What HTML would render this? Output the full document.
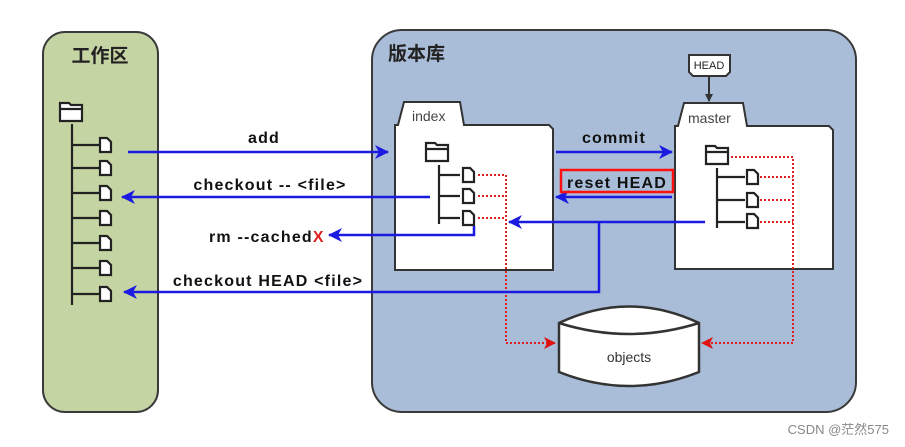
<!DOCTYPE html>
<html><head><meta charset="utf-8"><style>
body{margin:0;background:#fff;}
svg{display:block;font-family:"Liberation Sans","DejaVu Sans","Noto Sans CJK SC",sans-serif;}
.b{font-weight:bold;font-size:16px;fill:#111;letter-spacing:1.2px;}
</style></head><body>
<svg width="905" height="447" viewBox="0 0 905 447" xmlns="http://www.w3.org/2000/svg">
<defs>
<marker id="ab" markerWidth="14" markerHeight="14" refX="13" refY="7" orient="auto" markerUnits="userSpaceOnUse"><path d="M0,0 L14,7 L0,14 L4,7z" fill="#1a1ae0"/></marker>
<marker id="ar" markerWidth="12" markerHeight="12" refX="11" refY="6" orient="auto" markerUnits="userSpaceOnUse"><path d="M0,0 L12,6 L0,12 L3,6z" fill="#e01010"/></marker>
<marker id="ak" markerWidth="8" markerHeight="8" refX="7" refY="4" orient="auto" markerUnits="userSpaceOnUse"><path d="M0,0 L8,4 L0,8z" fill="#333"/></marker>
<g id="file"><path d="M0,0 h7 l4,4 v10 h-11z" fill="#fff" stroke="#222" stroke-width="2.2"/></g>
<g id="fold"><path d="M0,3 h9 l2,2 h11 v16 h-22z M0,9 h22" fill="#fff" stroke="#222" stroke-width="2.2"/></g>
</defs>
<rect x="43" y="32" width="115" height="380" rx="22" fill="#c5d4a3" stroke="#3a3a3a" stroke-width="2"/>
<text x="100" y="62" text-anchor="middle" font-size="19" font-weight="bold" fill="#222">工作区</text>
<rect x="372" y="30" width="484" height="382" rx="30" fill="#a9bdd8" stroke="#3a3a3a" stroke-width="2"/>
<text x="388" y="60" font-size="19" font-weight="bold" fill="#222">版本库</text>
<use href="#fold" x="60" y="100"/>
<line x1="72" y1="124" x2="72" y2="305" stroke="#222" stroke-width="2.2"/>
<g stroke="#222" stroke-width="2.2">
<line x1="72" y1="145" x2="99" y2="145"/><line x1="72" y1="168" x2="99" y2="168"/><line x1="72" y1="193" x2="99" y2="193"/><line x1="72" y1="218" x2="99" y2="218"/><line x1="72" y1="243" x2="99" y2="243"/><line x1="72" y1="268" x2="99" y2="268"/><line x1="72" y1="294" x2="99" y2="294"/></g>
<use href="#file" x="100" y="138"/><use href="#file" x="100" y="161"/><use href="#file" x="100" y="186"/><use href="#file" x="100" y="211"/><use href="#file" x="100" y="236"/><use href="#file" x="100" y="261"/><use href="#file" x="100" y="287"/>
<path d="M395,125 L398,125 L404,102 L460,102 L464,125 L549,125 L553,129 L553,270 L395,270 Z" fill="#fff" stroke="#333" stroke-width="2"/>
<text x="412" y="121" font-size="14" fill="#444">index</text>
<use href="#fold" x="426" y="140"/>
<line x1="439" y1="165" x2="439" y2="224" stroke="#222" stroke-width="2.2"/>
<g stroke="#222" stroke-width="2.2"><line x1="439" y1="175" x2="460" y2="175"/><line x1="439" y1="196" x2="460" y2="196"/><line x1="439" y1="218" x2="460" y2="218"/></g>
<use href="#file" x="463" y="168"/><use href="#file" x="463" y="189"/><use href="#file" x="463" y="211"/>
<path d="M675,126 L678,126 L684,103 L743,103 L747,126 L829,126 L833,130 L833,269 L675,269 Z" fill="#fff" stroke="#333" stroke-width="2"/>
<text x="688" y="123" font-size="14" fill="#444">master</text>
<use href="#fold" x="706" y="143"/>
<line x1="717" y1="168" x2="717" y2="228" stroke="#222" stroke-width="2.2"/>
<g stroke="#222" stroke-width="2.2"><line x1="717" y1="177" x2="745" y2="177"/><line x1="717" y1="200" x2="745" y2="200"/><line x1="717" y1="222" x2="745" y2="222"/></g>
<use href="#file" x="747" y="170"/><use href="#file" x="747" y="193"/><use href="#file" x="747" y="214"/>
<path d="M689,55 H730 V72 L726,76 H693 L689,72 Z" fill="#fff" stroke="#333" stroke-width="2"/>
<text x="709" y="69" text-anchor="middle" font-size="11" fill="#222">HEAD</text>
<line x1="709" y1="76" x2="709" y2="101" stroke="#333" stroke-width="2" marker-end="url(#ak)"/>
<path d="M559,323 Q629,290 699,323 V372 Q629,400 559,372 Z" fill="#fff" stroke="#333" stroke-width="2.5"/>
<path d="M559,323 Q629,345 699,323" fill="none" stroke="#333" stroke-width="2.5"/>
<text x="629" y="362" text-anchor="middle" font-size="14" fill="#333">objects</text>
<g fill="none" stroke="#e02020" stroke-width="2" stroke-dasharray="2,2">
<path d="M478,175 H506 V343 H555" marker-end="url(#ar)"/>
<path d="M478,196 H506"/><path d="M478,218 H506"/>
<path d="M731,157 H793 V343 H702" marker-end="url(#ar)"/>
<path d="M760,177 H793"/><path d="M760,200 H793"/><path d="M760,222 H793"/>
</g>
<g fill="none" stroke="#1a1ae0" stroke-width="2.5">
<path d="M128,152 H388" marker-end="url(#ab)"/>
<path d="M556,152 H672" marker-end="url(#ab)"/>
<path d="M430,197 H122" marker-end="url(#ab)"/>
<path d="M672,197 H556" marker-end="url(#ab)"/>
<path d="M474,226 V235 H329" marker-end="url(#ab)"/>
<path d="M705,222 H509" marker-end="url(#ab)"/>
<path d="M599,222 V292 H124" marker-end="url(#ab)"/>
</g>
<text x="264" y="143" text-anchor="middle" class="b">add</text>
<text x="270" y="190" text-anchor="middle" class="b">checkout -- &lt;file&gt;</text>
<text x="209" y="242" class="b">rm --cached<tspan fill="#e02020" letter-spacing="0">X</tspan></text>
<text x="268" y="286" text-anchor="middle" class="b">checkout HEAD &lt;file&gt;</text>
<text x="614" y="143" text-anchor="middle" class="b">commit</text>
<rect x="561" y="170" width="112" height="22" fill="none" stroke="#ff1010" stroke-width="2.5"/>
<text x="617" y="188" text-anchor="middle" class="b" letter-spacing="0.6">reset HEAD</text>
<text x="889" y="434" text-anchor="end" font-size="13" fill="#888">CSDN @茫然575</text>
</svg>
</body></html>
